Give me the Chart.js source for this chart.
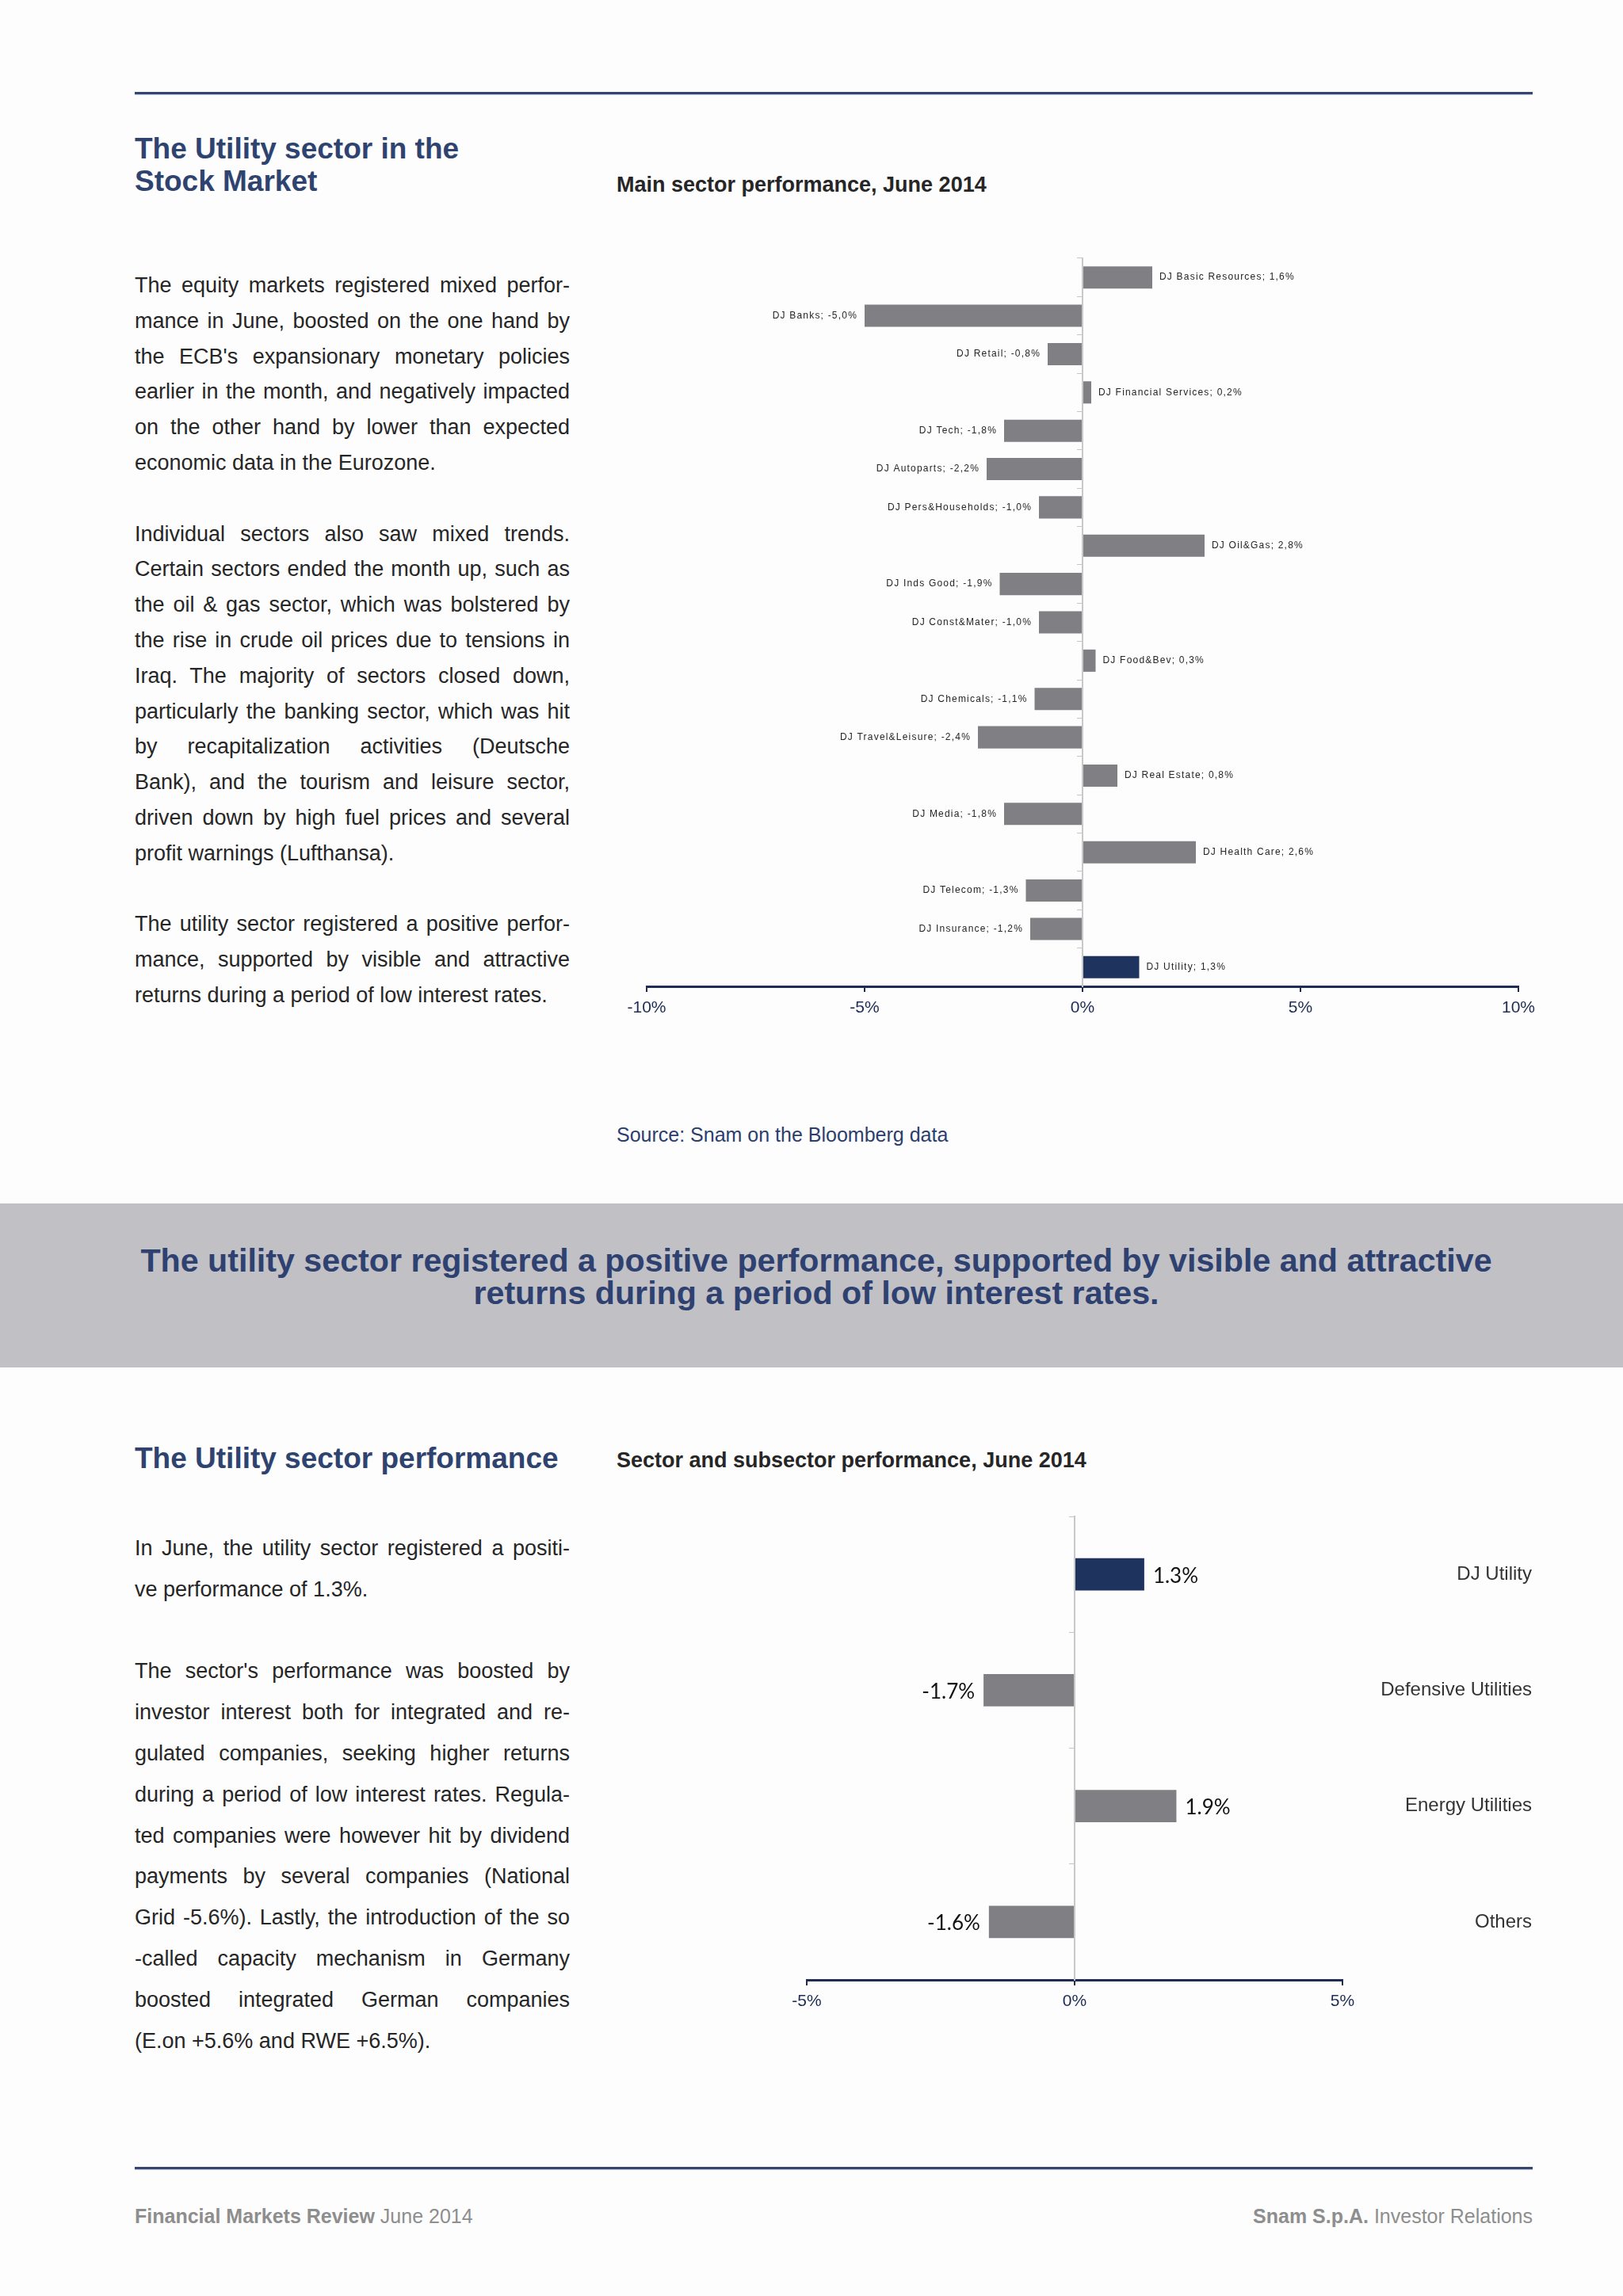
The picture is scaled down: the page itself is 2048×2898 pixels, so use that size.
<!DOCTYPE html>
<html>
<head>
<meta charset="utf-8">
<script src="https://cdn.jsdelivr.net/npm/chart.js@4.4.1/dist/chart.umd.min.js"></script>
<style>
  html, body { margin: 0; padding: 0; }
  body {
    width: 2048px; height: 2898px; position: relative; overflow: hidden;
    background: #fdfdfd; font-family: "Liberation Sans", Arial, sans-serif;
  }
  .abs { position: absolute; }
  .rule { left: 170px; width: 1764px; height: 3px; background: #34466f; box-shadow: 0 1px 1px #b8c2dc; }
  .heading { left: 170px; font-size: 37px; font-weight: bold; color: #2f4370; line-height: 41px; }
  .ctitle { left: 778px; font-size: 27px; font-weight: bold; color: #262626; line-height: 32px; white-space: nowrap; }
  .para { left: 170px; width: 549px; font-size: 27px; color: #262626; }
  .para div { text-align: justify; text-align-last: justify; white-space: nowrap; }
  .para div.last { text-align: left; text-align-last: left; }
  .para div.gap { height: var(--lh); }
  .band { left: 0; top: 1519px; width: 2048px; height: 207px; background: #c0c0c5; }
  .band p { margin: 0; position: absolute; left: 12px; top: 52px; width: 2036px; text-align: center;
    font-size: 41.2px; font-weight: bold; color: #2e4170; line-height: 41px; white-space: nowrap; }
  .source { left: 778px; top: 1417px; font-size: 25px; color: #2c3e6e; line-height: 30px; }
  .foot { top: 2782px; font-size: 25px; color: #8e8e8e; line-height: 30px; white-space: nowrap; }
  canvas { position: absolute; }
</style>
</head>
<body>
<div class="abs rule" style="top:116px"></div>

<div class="abs heading" style="top:167px">The Utility sector in the<br>Stock Market</div>
<div class="abs ctitle" style="top:217px">Main sector performance, June 2014</div>

<div class="abs para" style="top:338px; line-height:44.8px; --lh:44.8px">
  <div>The equity markets registered mixed perfor-</div>
  <div>mance in June, boosted on the one hand by</div>
  <div>the ECB's expansionary monetary policies</div>
  <div>earlier in the month, and negatively impacted</div>
  <div>on the other hand by lower than expected</div>
  <div class="last">economic data in the Eurozone.</div>
  <div class="gap"></div>
  <div>Individual sectors also saw mixed trends.</div>
  <div>Certain sectors ended the month up, such as</div>
  <div>the oil &amp; gas sector, which was bolstered by</div>
  <div>the rise in crude oil prices due to tensions in</div>
  <div>Iraq. The majority of sectors closed down,</div>
  <div>particularly the banking sector, which was hit</div>
  <div>by recapitalization activities (Deutsche</div>
  <div>Bank), and the tourism and leisure sector,</div>
  <div>driven down by high fuel prices and several</div>
  <div class="last">profit warnings (Lufthansa).</div>
  <div class="gap"></div>
  <div>The utility sector registered a positive perfor-</div>
  <div>mance, supported by visible and attractive</div>
  <div class="last">returns during a period of low interest rates.</div>
</div>

<canvas id="sectorChart" width="1200" height="1000" style="left:760px; top:300px"></canvas>
<div class="abs source">Source: Snam on the Bloomberg data</div>

<div class="abs band"><p>The utility sector registered a positive performance, supported by visible and attractive<br>returns during a period of low interest rates.</p></div>

<div class="abs heading" style="top:1820px">The Utility sector performance</div>
<div class="abs ctitle" style="top:1827px">Sector and subsector performance, June 2014</div>

<div class="abs para" style="top:1929px; line-height:51.8px; --lh:51.8px">
  <div>In June, the utility sector registered a positi-</div>
  <div class="last">ve performance of 1.3%.</div>
  <div class="gap"></div>
  <div>The sector's performance was boosted by</div>
  <div>investor interest both for integrated and re-</div>
  <div>gulated companies, seeking higher returns</div>
  <div>during a period of low interest rates. Regula-</div>
  <div>ted companies were however hit by dividend</div>
  <div>payments by several companies (National</div>
  <div>Grid -5.6%). Lastly, the introduction of the so</div>
  <div>-called capacity mechanism in Germany</div>
  <div>boosted integrated German companies</div>
  <div class="last">(E.on +5.6% and RWE +6.5%).</div>
</div>

<canvas id="subChart" width="980" height="680" style="left:980px; top:1890px"></canvas>

<div class="abs rule" style="top:2735px"></div>
<div class="abs foot" style="left:170px"><b>Financial Markets Review</b> June 2014</div>
<div class="abs foot" style="right:114px"><b>Snam S.p.A.</b> Investor Relations</div>

<script>
// top chart: DJ sector performance, June 2014 (%)
const sectorNames = ['DJ Basic Resources', 'DJ Banks', 'DJ Retail', 'DJ Financial Services', 'DJ Tech',
    'DJ Autoparts', 'DJ Pers&Households', 'DJ Oil&Gas', 'DJ Inds Good', 'DJ Const&Mater', 'DJ Food&Bev',
    'DJ Chemicals', 'DJ Travel&Leisure', 'DJ Real Estate', 'DJ Media', 'DJ Health Care', 'DJ Telecom',
    'DJ Insurance', 'DJ Utility'];
const sectorPerf = [1.6, -5.0, -0.8, 0.2, -1.8, -2.2, -1.0, 2.8, -1.9, -1.0, 0.3, -1.1, -2.4, 0.8, -1.8, 2.6, -1.3, -1.2, 1.3];
const sectorTicks = [-10, -5, 0, 5, 10];

// bottom chart: sector and subsectors
const subNames = ['DJ Utility', 'Defensive Utilities', 'Energy Utilities', 'Others'];
const subPerf = [1.3, -1.7, 1.9, -1.6];
const subTicks = [-5, 0, 5];

const highlight = 'DJ Utility';
const NAVY = '#1f335f';
const GREY = '#807f84';
const AXIS = '#1f2d54';

Chart.defaults.font.family = '"Liberation Sans", Arial, sans-serif';
Chart.defaults.animation = false;

// draws the value label next to the end of each bar
const barLabels = {
    id: 'barLabels',
    afterDatasetsDraw(chart, args, opts) {
        const ctx = chart.ctx;
        const meta = chart.getDatasetMeta(0);
        const values = chart.data.datasets[0].data;
        ctx.save();
        ctx.font = opts.font;
        ctx.fillStyle = opts.color;
        ctx.textBaseline = 'middle';
        if (opts.spacing) ctx.letterSpacing = opts.spacing;
        meta.data.forEach((bar, i) => {
            const v = values[i];
            const neg = v < 0;
            ctx.textAlign = neg ? 'right' : 'left';
            ctx.fillText(opts.format(chart.data.labels[i], v), bar.x + (neg ? -opts.gap : opts.gap), bar.y + (opts.dy || 0));
        });
        ctx.restore();
    }
};

function valueAxis(tickValues, min, max) {
    return {
        type: 'linear', position: 'bottom', min: min, max: max,
        afterBuildTicks: scale => { scale.ticks = tickValues.map(v => ({ value: v })); },
        afterFit: scale => { scale.height = 50; },
        grid: { drawOnChartArea: false, drawTicks: true, tickLength: 7, color: AXIS, lineWidth: 2 },
        border: { color: AXIS, width: 3 },
        ticks: { padding: 8, color: AXIS, font: { size: 21 }, callback: v => v + '%', maxRotation: 0 }
    };
}

function zeroAxis() {
    return {
        type: 'category', position: { x: 0 }, offset: true,
        grid: { offset: true, drawOnChartArea: false, drawTicks: true, tickLength: 6, color: '#c4c4c4', lineWidth: 1 },
        border: { color: '#c8c8c8', width: 2 },
        ticks: { display: false }
    };
}

new Chart(document.getElementById('sectorChart'), {
    type: 'bar',
    data: {
        labels: sectorNames,
        datasets: [{
            data: sectorPerf,
            backgroundColor: sectorNames.map(n => n === highlight ? NAVY : GREY),
            barPercentage: 0.58,
            categoryPercentage: 1
        }]
    },
    options: {
        indexAxis: 'y',
        responsive: false,
        layout: { padding: { left: 56, right: 44, top: 26, bottom: 5 } },
        scales: {
            x: valueAxis(sectorTicks, -10, 10),
            y: zeroAxis()
        },
        plugins: {
            legend: { display: false },
            tooltip: { enabled: false },
            barLabels: {
                font: '12px "Liberation Sans", Arial, sans-serif',
                color: '#262626',
                spacing: '1.2px',
                gap: 9,
                format: (name, v) => name + '; ' + v.toFixed(1).replace('.', ',') + '%'
            }
        }
    },
    plugins: [barLabels]
});

new Chart(document.getElementById('subChart'), {
    type: 'bar',
    data: {
        labels: subNames,
        datasets: [{
            data: subPerf,
            backgroundColor: subNames.map(n => n === highlight ? NAVY : GREY),
            barPercentage: 0.28,
            categoryPercentage: 1
        }]
    },
    options: {
        indexAxis: 'y',
        responsive: false,
        layout: { padding: { left: 38, right: 27, top: 24, bottom: 21 } },
        scales: {
            x: valueAxis(subTicks, -5, 5),
            y: zeroAxis(),
            names: {
                type: 'category', position: 'right', offset: true,
                afterFit: scale => { scale.width = 239; },
                // invisible tick marks give the gap between plot and names
                grid: { display: true, drawOnChartArea: false, drawTicks: true, tickLength: 48, color: 'rgba(0,0,0,0)' },
                border: { display: false },
                ticks: { crossAlign: 'far', padding: 0, color: '#333333', font: { size: 24 } }
            }
        },
        plugins: {
            legend: { display: false },
            tooltip: { enabled: false },
            barLabels: {
                font: '26px Lato, "Open Sans", sans-serif',
                color: '#111111',
                gap: 11,
                dy: 2,
                format: (name, v) => v.toFixed(1) + '%'
            }
        }
    },
    plugins: [barLabels]
});
</script>
</body>
</html>
